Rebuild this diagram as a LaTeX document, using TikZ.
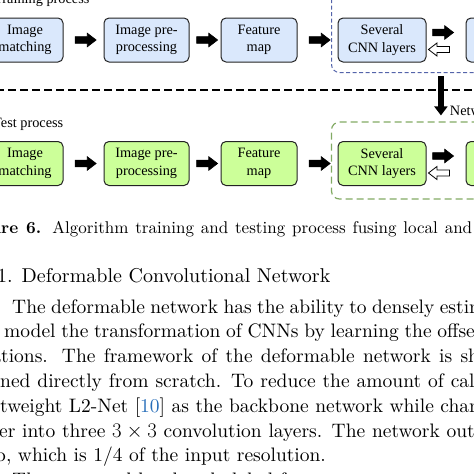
\documentclass[tikz,border=0pt]{standalone}
\usepackage{fontspec}
\newfontfamily\figfont{Liberation Serif}
\newfontfamily\bodyfont{lmroman10-regular}[Extension=.otf, BoldFont=lmroman10-bold]
\usetikzlibrary{arrows.meta,positioning,fit,calc,shapes.arrows}
\definecolor{trainfill}{RGB}{218,232,252}
\definecolor{testfill}{RGB}{204,255,153}
\definecolor{trainedge}{RGB}{84,100,170}
\definecolor{testedge}{RGB}{130,170,100}
\definecolor{boxedge}{RGB}{35,35,35}
\definecolor{citeblue}{RGB}{40,110,185}
\tikzset{
  stage/.style={draw=boxedge, line width=1pt, rounded corners=5pt, align=center,
    minimum height=44pt, inner sep=1pt, font=\figfont\fontsize{14.3}{17.5}\selectfont},
  trainstage/.style={stage, fill=trainfill},
  teststage/.style={stage, fill=testfill},
  area/.style={line width=1pt, rounded corners=8pt, inner sep=0pt, dashed},
  trainarea/.style={area, draw=trainedge, dash pattern=on 4pt off 2.5pt},
  testarea/.style={area, draw=testedge, line width=1.2pt, dash pattern=on 7pt off 4pt},
  fwd/.style={single arrow, draw=black, fill=black, line width=0.6pt,
    inner xsep=0pt, inner ysep=3pt,
    minimum height=21pt, minimum width=13pt, single arrow head extend=3.5pt,
    single arrow tip angle=75},
  back/.style={fwd, fill=white, line width=0.8pt, inner ysep=2.6pt, shape border rotate=180},
  vflow/.style={line width=6pt, -{Triangle[length=9pt, width=13pt]}},
  divider/.style={line width=2.5pt, dash pattern=on 8pt off 4pt},
  lbl/.style={font=\figfont\fontsize{14.3}{17}\selectfont, inner sep=0pt},
  bodyline/.style={anchor=base west, inner sep=0pt, text=black, font=\bodyfont\fontsize{19.5}{24}\selectfont}
}
\begin{document}
\begin{tikzpicture}[x=1pt, y=-1pt]
  \useasboundingbox (0,0) rectangle (474,474);
  \clip (0,0) rectangle (474,474);
  % training
  \node[lbl, anchor=base west] (trainlbl) at (-6,3) {Training process};
  \node[trainstage, minimum width=76pt] (m1) at (25,40) {Image\\matching};
  \node[trainstage, minimum width=85pt, right=40pt of m1] (p1) {Image pre-\\processing};
  \node[trainstage, minimum width=76pt, right=31pt of p1] (f1) {Feature\\map};
  \node[trainstage, minimum width=88pt, right=40pt of f1] (c1) {Several\\CNN layers};
  \node[trainstage, minimum width=88pt, right=39pt of c1] (d1) {Local\\Descriptors};
  \node[trainarea, fit={($(c1.north west)+(-6,-60)$) ($(d1.south east)+(20,10)$)}] (ta) {};
  % test
  \node[lbl, anchor=base west] (testlbl) at (-7,127) {Test process};
  \node[teststage, minimum width=76pt] (m2) at (25,163.5) {Image\\matching};
  \node[teststage, minimum width=85pt, right=40pt of m2] (p2) {Image pre-\\processing};
  \node[teststage, minimum width=76pt, right=31pt of p2] (f2) {Feature\\map};
  \node[teststage, minimum width=88pt, right=40pt of f2] (c2) {Several\\CNN layers};
  \node[teststage, minimum width=88pt, right=39pt of c2] (d2) {Local\\Descriptors};
  \node[testarea, fit={($(c2.north west)+(-6,-19)$) ($(d2.south east)+(20,13)$)}] (tea) {};

  \foreach \r in {1,2} {
    \path (m\r.east) -- node[fwd] {} (p\r.west);
    \path (p\r.east) -- node[fwd] {} (f\r.west);
    \path (f\r.east) -- node[fwd] {} (c\r.west);
    \path ([yshift=7.5pt]c\r.east) -- node[fwd, pos=.37] {} ([yshift=7.5pt]d\r.west);
    \path ([yshift=-9.5pt]d\r.west) -- node[back, pos=.63] {} ([yshift=-9.5pt]c\r.east);
  }

  \draw[divider] (-4,90) -- (480,90);
  \coordinate (vx) at ($(c1.east)!0.37!(d1.west)$);
  \draw[vflow, shorten <=3pt, shorten >=6pt] (ta.south -| vx) --
    node[lbl, pos=.8, right=6pt] {Network parameters} (tea.north -| vx);

  % text of the page (justified lines)
  \node[bodyline, font=\bodyfont\fontsize{17}{20}\selectfont] (cap) at (1,233)
    {\llap{\textbf{Figu}}\makebox[471pt][s]{\textbf{re 6.} Algorithm training and testing process fusing local and} global};
  \node[bodyline, font=\bodyfont\fontsize{20}{24}\selectfont] (sec) at (-3,282) {\llap{3.}1. Deformable Convolutional Network};
  \node[bodyline] (l1) at (12,313) {\makebox[457pt][s]{The deformable network has the ability to densely esti}mate};
  \node[bodyline] (l2) at (4,337) {\llap{to }\makebox[462pt][s]{model the transformation of CNNs by learning the offs}ets};
  \node[bodyline] (l3) at (1,362) {\llap{loca}\makebox[467pt][s]{tions. The framework of the deformable network is s}hown};
  \node[bodyline] (l4) at (0,387) {\llap{trai}\makebox[469pt][s]{ned directly from scratch. To reduce the amount of ca}lculation};
  \node[bodyline] (l5) at (0,412) {\llap{ligh}\makebox[469pt][s]{tweight L2-Net [\textcolor{citeblue}{10}] as the backbone network while cha}nging};
  \node[bodyline] (l6) at (-1,437) {\llap{lay}\makebox[468pt][s]{er into three $3\times 3$ convolution layers. The network ou}tput};
  \node[bodyline] (l7) at (-5,461) {\llap{ma}p, which is 1/4 of the input resolution.};
  \node[bodyline] (l8) at (12,486) {The extracted local and global features are};
\end{tikzpicture}
\end{document}
